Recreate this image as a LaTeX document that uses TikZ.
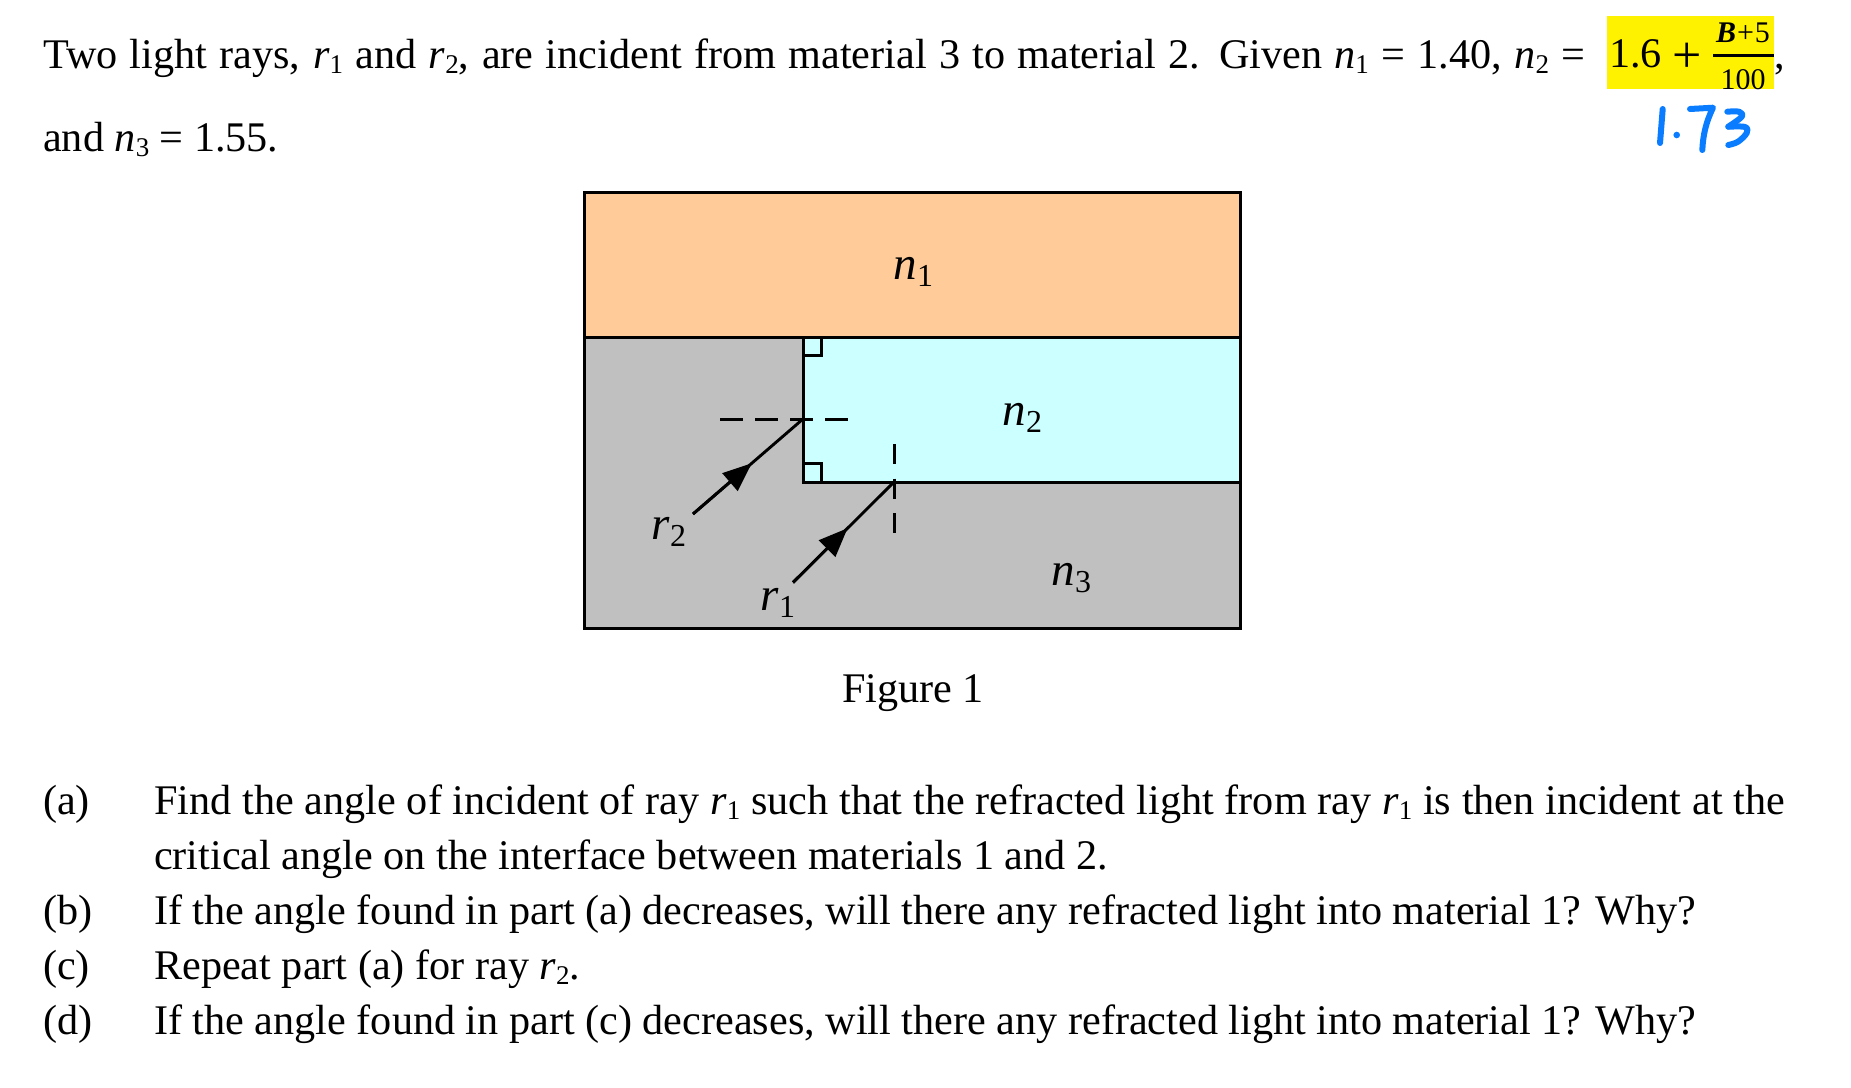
\documentclass[tikz,border=0pt]{standalone}
\usepackage{fontspec}
\setmainfont{Liberation Serif}
\usetikzlibrary{calc, arrows.meta}
\definecolor{matone}{HTML}{FFCC99}
\definecolor{mattwo}{HTML}{CCFFFF}
\definecolor{matthree}{HTML}{C0C0C0}
\definecolor{inkblue}{HTML}{0A7CFF}
\newcommand{\sym}[2]{\textit{#1}\raisebox{-0.12em}{\scalebox{0.64}{#2}}}
\newcommand{\figsym}[2]{\textit{#1}\kern0.5pt\raisebox{-0.15em}{\scalebox{0.68}{#2}}}
\tikzset{
  txt/.style={anchor=base west, inner sep=0pt, font=\fontsize{42.2}{55}\selectfont},
  lab/.style={anchor=base west, inner sep=0pt, font=\fontsize{47}{55}\selectfont},
  frc/.style={anchor=base, inner sep=0pt, font=\fontsize{30}{30}\selectfont},
  wall/.style={line width=3pt},
  ray/.style={line width=2.9pt},
  hit/.style={line width=3pt, dash pattern=on 23pt off 12pt},
  hand/.style={inkblue, line width=6pt, line cap=round, line join=round}
}
\begin{document}
\begin{tikzpicture}[x=1pt, y=-1pt]
    \useasboundingbox (0,0) rectangle (1851,1087);

    % 1. Corners of the block
    \coordinate (TL) at (584,192);
    \coordinate (TR) at (1240,192);
    \coordinate (BL) at (584,628);
    \coordinate (BR) at (1240,628);
    \coordinate (ML) at (584,337);
    \coordinate (MR) at (1240,337);
    \coordinate (C) at (803,337);
    \coordinate (D) at (803,482);
    \coordinate (E) at (1240,482);

    % 2. Fill the three materials
    \fill[matthree] (TL) rectangle (BR);
    \fill[matone] (TL) rectangle (MR);
    \fill[mattwo] (C) rectangle (E);

    % 3. Draw the walls
    \draw[wall] (TL) rectangle (BR);
    \draw[wall] (ML) -- (MR);
    \draw[wall] (C) -- (D) -- (E);

    % 4. Right angle symbols
    \draw[line width=2.8pt] (C) ++(18.5,0) -- ++(0,18.5) -- ++(-18.5,0);
    \draw[line width=2.8pt] (D) ++(18.5,0) -- ++(0,-18.5) -- ++(-18.5,0);

    % 5. Normals at the two hit points
    \coordinate (Hone) at (894,482);
    \coordinate (Htwo) at (803,419);
    \draw[hit] (720,419) -- (848,419);
    \draw[line width=3pt, dash pattern=on 20pt off 14.5pt] (894,444) -- (894,534);

    % 6. The two rays
    \coordinate (Sone) at (793,582.5);
    \coordinate (Stwo) at (693,514);
    \draw[ray] (Sone) -- (Hone);
    \draw[ray] (Stwo) -- (Htwo);
    \draw[ray, -{Triangle[length=29pt,width=23pt]}] (Sone) -- ($(Sone)!0.54!(Hone)$);
    \draw[ray, -{Triangle[length=29pt,width=23pt]}] (Stwo) -- ($(Stwo)!0.535!(Htwo)$);

    % 7. Labels in the figure
    \node[lab] (none) at (893,279.5) {\figsym{n}{1}};
    \node[lab] (ntwo) at (1002,425) {\figsym{n}{2}};
    \node[lab] (nthree) at (1051,585) {\figsym{n}{3}};
    \node[lab] (rtwo) at (651,539) {\figsym{r}{2}};
    \node[lab] (rone) at (760,610.5) {\figsym{r}{1}};
    \node[txt] (figlabel) at (842,702) {Figure 1};

    % 8. The question above the figure
    \fill[yellow] (1607,16) rectangle (1774,89);
    \node[txt] (lineone) at (43,68) {\makebox[1542pt][s]{Two light rays, \sym{r}{1} and \sym{r}{2}, are incident from material 3 to material 2. Given \sym{n}{1} = 1.40, \sym{n}{2} =}};
    \node[txt] (linetwo) at (43,151) {and \sym{n}{3} = 1.55.};
    \node[txt] (sixteen) at (1609,67) {1.6};
    \node[anchor=base, inner sep=0pt, font=\fontsize{52}{55}\selectfont] (plus) at (1687,72) {+};
    \node[frc] (fnum) at (1743,42.5) {\textbf{\textit{B}}\kern1pt+\kern1pt5};
    \node[frc] (fden) at (1743,89.5) {100};
    \draw[line width=3pt] (1713,55) -- (1774,55);
    \node[txt] (comma) at (1774,68) {,};

    % 9. The handwritten value
    \draw[hand] (1662.7,109) -- (1660,143);
    \fill[inkblue] (1676.7,135) circle (3.3pt);
    \draw[hand] (1690,109) -- (1713,107.7) .. controls (1706,122) and (1703,135) .. (1702.3,150);
    \draw[hand] plot[smooth, tension=0.6] coordinates {(1727.3,111.7) (1739,111.7) (1741.7,116.7) (1728.3,126.7)};
    \draw[hand] plot[smooth, tension=0.6] coordinates {(1728.3,126.7) (1745,127) (1746.7,133) (1738,141.7) (1728.3,145)};

    % 10. The parts
    \node[txt] (parta) at (43,814) {(a)};
    \node[txt] (qa) at (154,814) {\makebox[1631pt][s]{Find the angle of incident of ray \sym{r}{1} such that the refracted light from ray \sym{r}{1} is then incident at the}};
    \node[txt] (qamore) at (154,869) {critical angle on the interface between materials 1 and 2.};
    \node[txt] (partb) at (43,924) {(b)};
    \node[txt] (qb) at (154,924) {If the angle found in part (a) decreases, will there any refracted light into material 1? Why?};
    \node[txt] (partc) at (43,979) {(c)};
    \node[txt] (qc) at (154,979) {Repeat part (a) for ray \sym{r}{2}.};
    \node[txt] (partd) at (43,1034) {(d)};
    \node[txt] (qd) at (154,1034) {If the angle found in part (c) decreases, will there any refracted light into material 1? Why?};

\end{tikzpicture}
\end{document}
